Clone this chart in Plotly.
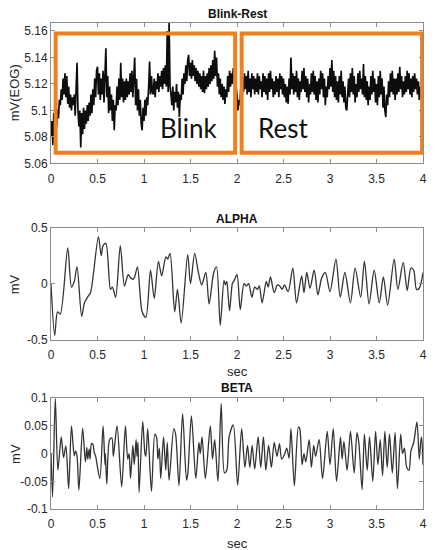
import plotly.graph_objects as go
from plotly.subplots import make_subplots

# ---- EOG (Blink-Rest), one sample every 10 ms ----
eog_mv = [
    5.080, 5.092, 5.074, 5.098, 5.083, 5.104, 5.088, 5.101, 5.094, 5.108,
    5.104, 5.116, 5.108, 5.124, 5.112, 5.128, 5.110, 5.126, 5.105, 5.118,
    5.102, 5.112, 5.100, 5.110, 5.104, 5.112, 5.096, 5.122, 5.136, 5.100,
    5.088, 5.100, 5.072, 5.098, 5.082, 5.102, 5.086, 5.100, 5.090, 5.104,
    5.092, 5.106, 5.096, 5.112, 5.098, 5.116, 5.104, 5.124, 5.110, 5.130,
    5.133, 5.112, 5.128, 5.108, 5.124, 5.112, 5.130, 5.106, 5.122, 5.147,
    5.110, 5.126, 5.098, 5.118, 5.100, 5.112, 5.092, 5.108, 5.085, 5.104,
    5.100, 5.118, 5.104, 5.124, 5.108, 5.136, 5.110, 5.124, 5.106, 5.122,
    5.108, 5.124, 5.110, 5.122, 5.112, 5.128, 5.114, 5.130, 5.110, 5.126,
    5.140, 5.104, 5.124, 5.100, 5.116, 5.096, 5.108, 5.090, 5.085, 5.102,
    5.092, 5.108, 5.096, 5.110, 5.104, 5.118, 5.137, 5.112, 5.126, 5.114,
    5.112, 5.124, 5.110, 5.122, 5.116, 5.128, 5.114, 5.126, 5.118, 5.130,
    5.116, 5.132, 5.120, 5.134, 5.118, 5.160, 5.114, 5.166, 5.118, 5.112,
    5.104, 5.118, 5.100, 5.114, 5.106, 5.120, 5.102, 5.114, 5.095, 5.112,
    5.108, 5.124, 5.112, 5.128, 5.120, 5.134, 5.122, 5.138, 5.142, 5.126,
    5.136, 5.124, 5.138, 5.126, 5.134, 5.122, 5.132, 5.120, 5.130, 5.118,
    5.128, 5.116, 5.126, 5.114, 5.130, 5.113, 5.126, 5.116, 5.128, 5.118,
    5.132, 5.120, 5.134, 5.122, 5.138, 5.124, 5.145, 5.126, 5.140, 5.118,
    5.128, 5.112, 5.124, 5.110, 5.120, 5.108, 5.118, 5.105, 5.116, 5.110,
    5.126, 5.114, 5.130, 5.118, 5.128, 5.120, 5.132, 5.122, 5.130, 5.118,
    5.112, 5.100, 5.108, 5.104, 5.116, 5.110, 5.124, 5.114, 5.128, 5.116,
    5.126, 5.112, 5.130, 5.114, 5.124, 5.110, 5.128, 5.116, 5.126, 5.112,
    5.124, 5.114, 5.128, 5.112, 5.126, 5.116, 5.122, 5.110, 5.128, 5.114,
    5.126, 5.112, 5.124, 5.108, 5.128, 5.114, 5.130, 5.116, 5.124, 5.110,
    5.122, 5.112, 5.126, 5.114, 5.124, 5.110, 5.128, 5.116, 5.126, 5.112,
    5.124, 5.110, 5.120, 5.106, 5.118, 5.105, 5.124, 5.112, 5.140, 5.116,
    5.128, 5.112, 5.126, 5.114, 5.130, 5.110, 5.124, 5.108, 5.122, 5.114,
    5.130, 5.116, 5.132, 5.114, 5.126, 5.110, 5.124, 5.106, 5.120, 5.112,
    5.128, 5.114, 5.130, 5.112, 5.126, 5.108, 5.122, 5.106, 5.124, 5.112,
    5.130, 5.116, 5.128, 5.110, 5.124, 5.104, 5.118, 5.110, 5.126, 5.116,
    5.132, 5.118, 5.138, 5.114, 5.130, 5.110, 5.126, 5.108, 5.122, 5.106,
    5.126, 5.112, 5.130, 5.110, 5.122, 5.106, 5.118, 5.102, 5.100, 5.112,
    5.124, 5.110, 5.128, 5.114, 5.132, 5.112, 5.126, 5.106, 5.120, 5.110,
    5.128, 5.114, 5.130, 5.116, 5.124, 5.112, 5.135, 5.110, 5.126, 5.108,
    5.122, 5.104, 5.118, 5.108, 5.126, 5.112, 5.130, 5.114, 5.124, 5.106,
    5.120, 5.104, 5.126, 5.110, 5.130, 5.112, 5.124, 5.102, 5.118, 5.100,
    5.095, 5.112, 5.104, 5.122, 5.110, 5.128, 5.114, 5.130, 5.112, 5.124,
    5.108, 5.124, 5.112, 5.128, 5.114, 5.133, 5.116, 5.126, 5.110, 5.122,
    5.112, 5.126, 5.114, 5.130, 5.116, 5.128, 5.112, 5.124, 5.110, 5.126,
    5.114, 5.128, 5.116, 5.124, 5.112, 5.122, 5.108, 5.118, 5.110, 5.120,
]
eog_t = [i * 0.01 for i in range(len(eog_mv))]

# ---- ALPHA band: turning points (sec, mV) ----
alpha_t = [0.00, 0.04, 0.07, 0.10, 0.18, 0.22, 0.25, 0.28, 0.33, 0.36, 0.40, 0.425,
           0.51, 0.54, 0.56, 0.59, 0.64, 0.66, 0.695, 0.745, 0.79, 0.83, 0.86, 0.885,
           0.90, 0.93, 0.98, 1.02, 1.07, 1.11, 1.155, 1.19, 1.235, 1.255, 1.28, 1.33,
           1.36, 1.40, 1.47, 1.50, 1.545, 1.585, 1.62, 1.665, 1.70, 1.75, 1.78, 1.82,
           1.86, 1.875, 1.89, 1.92, 1.95, 1.97, 2.00, 2.035, 2.075, 2.10, 2.125, 2.16,
           2.19, 2.22, 2.24, 2.27, 2.315, 2.335, 2.36, 2.40, 2.435, 2.46, 2.485, 2.51,
           2.55, 2.60, 2.64, 2.695, 2.72, 2.75, 2.785, 2.83, 2.87, 2.91, 2.95, 3.00,
           3.064, 3.11, 3.16, 3.22, 3.27, 3.33, 3.37, 3.42, 3.475, 3.53, 3.574, 3.62,
           3.69, 3.73, 3.787, 3.83, 3.87, 3.90, 3.93, 3.96, 4.00]
alpha_mv = [0.00, -0.46, -0.25, -0.27, 0.32, -0.03, 0.02, 0.15, -0.29, -0.17, -0.11, -0.08,
            0.42, 0.25, 0.34, 0.36, -0.05, -0.03, -0.12, 0.34, -0.02, 0.08, 0.05, 0.04,
            0.06, 0.15, -0.25, -0.30, 0.12, -0.13, 0.20, 0.07, 0.24, 0.22, 0.27, -0.25,
            -0.05, -0.35, 0.26, 0.00, 0.27, 0.10, -0.01, 0.10, -0.18, 0.10, 0.15, -0.37,
            0.03, -0.01, 0.02, -0.24, 0.00, 0.03, 0.08, -0.23, 0.00, -0.02, 0.00, -0.12,
            -0.03, -0.05, -0.02, -0.17, 0.02, -0.03, 0.06, -0.08, -0.01, -0.02, -0.05, -0.01,
            -0.07, 0.14, -0.17, 0.07, -0.08, 0.10, -0.04, 0.12, -0.10, 0.05, 0.10, -0.07,
            0.22, -0.12, 0.10, -0.17, 0.14, -0.12, 0.20, -0.18, 0.12, -0.17, 0.06, -0.19,
            0.22, -0.05, 0.19, -0.06, 0.14, 0.12, -0.05, -0.04, 0.10]

# ---- BETA band: turning points (sec, mV) ----
beta_t = [0.000, 0.017, 0.046, 0.074, 0.11, 0.135, 0.16, 0.19, 0.22, 0.25, 0.265, 0.28,
          0.30, 0.34, 0.37, 0.385, 0.395, 0.41, 0.42, 0.435, 0.45, 0.465, 0.48, 0.525,
          0.56, 0.58, 0.585, 0.60, 0.63, 0.655, 0.67, 0.71, 0.76, 0.80, 0.825, 0.84,
          0.855, 0.88, 0.895, 0.915, 0.925, 0.935, 0.947, 0.986, 1.01, 1.02, 1.04, 1.08,
          1.117, 1.135, 1.15, 1.165, 1.18, 1.21, 1.234, 1.25, 1.27, 1.32, 1.34, 1.376,
          1.415, 1.457, 1.47, 1.51, 1.557, 1.59, 1.605, 1.624, 1.66, 1.713, 1.737, 1.76,
          1.795, 1.83, 1.865, 1.89, 1.915, 1.96, 2.007, 2.05, 2.085, 2.113, 2.138, 2.163,
          2.19, 2.227, 2.255, 2.284, 2.31, 2.34, 2.37, 2.40, 2.43, 2.457, 2.48, 2.51,
          2.535, 2.56, 2.58, 2.617, 2.66, 2.675, 2.70, 2.72, 2.74, 2.776, 2.80, 2.825,
          2.845, 2.883, 2.92, 2.97, 3.00, 3.035, 3.07, 3.113, 3.13, 3.15, 3.184, 3.22,
          3.26, 3.29, 3.31, 3.345, 3.37, 3.40, 3.425, 3.46, 3.49, 3.515, 3.54, 3.565,
          3.59, 3.615, 3.64, 3.67, 3.70, 3.725, 3.76, 3.78, 3.80, 3.825, 3.85, 3.87,
          3.90, 3.935, 3.96, 3.975, 3.985, 4.00]
beta_mv = [0.000, -0.078, 0.100, -0.030, 0.030, -0.007, 0.014, -0.063, 0.050, -0.004, 0.005, -0.005,
           -0.066, 0.046, -0.015, 0.011, -0.010, 0.008, -0.010, 0.018, 0.017, 0.002, -0.005, -0.045,
           0.050, -0.020, 0.000, -0.055, 0.025, 0.028, -0.005, 0.050, -0.060, 0.050, -0.010, 0.000,
           -0.045, 0.015, -0.020, 0.025, -0.005, 0.020, -0.070, 0.058, 0.000, -0.005, 0.045, -0.068,
           0.035, 0.030, -0.010, 0.010, -0.045, 0.030, -0.030, 0.020, -0.048, 0.045, 0.035, -0.058,
           0.072, -0.048, -0.038, 0.068, -0.045, 0.020, 0.000, 0.030, -0.045, 0.050, -0.010, 0.025,
           -0.050, 0.090, -0.035, -0.030, 0.030, 0.052, -0.057, 0.045, -0.025, 0.015, -0.025, 0.015,
           -0.028, 0.030, -0.025, 0.030, -0.030, 0.015, -0.025, 0.020, -0.005, 0.018, -0.010, -0.002,
           0.010, -0.008, 0.045, -0.058, 0.048, 0.045, -0.020, 0.000, -0.015, 0.025, -0.025, 0.015,
           -0.005, 0.025, -0.045, 0.040, -0.020, 0.045, -0.050, 0.030, -0.010, 0.022, -0.030, 0.040,
           -0.035, 0.038, 0.020, -0.065, 0.035, -0.030, 0.030, -0.050, 0.040, -0.020, 0.025, -0.040,
           0.040, -0.025, 0.035, -0.035, 0.038, -0.063, 0.035, 0.000, 0.010, -0.025, -0.030, 0.005,
           0.020, 0.057, -0.010, 0.020, 0.030, -0.020]

x_ticks = [0, 0.5, 1, 1.5, 2, 2.5, 3, 3.5, 4]
x_labels = ["0", "0.5", "1", "1.5", "2", "2.5", "3", "3.5", "4"]
eog_ticks = [5.06, 5.08, 5.10, 5.12, 5.14, 5.16]
eog_labels = ["5.06", "5.08", "5.1", "5.12", "5.14", "5.16"]
alpha_ticks = [-0.5, 0, 0.5]
alpha_labels = ["-0.5", "0", "0.5"]
beta_ticks = [-0.1, -0.05, 0, 0.05, 0.1]
beta_labels = ["-0.1", "-0.05", "0", "0.05", "0.1"]

# orange boxes: (x0, x1) in sec, shared y span in mV
blink_box = (0.05, 1.98)
rest_box = (2.05, 3.99)
box_y = (5.068, 5.158)

ORANGE = "#f07f1e"
TXT = "#262626"
AX = "#8c8c8c"

fig = make_subplots(rows=3, cols=1)

fig.add_trace(go.Scatter(x=eog_t, y=eog_mv, mode="lines",
                         line=dict(color="#0d0d0d", width=1.7)), row=1, col=1)
fig.add_trace(go.Scatter(x=alpha_t, y=alpha_mv, mode="lines",
                         line=dict(color="#333333", width=1.3, shape="spline", smoothing=0.8)),
              row=2, col=1)
fig.add_trace(go.Scatter(x=beta_t, y=beta_mv, mode="lines",
                         line=dict(color="#333333", width=1.3, shape="spline", smoothing=0.8)),
              row=3, col=1)

axis_style = dict(showline=True, mirror="ticks", linecolor=AX, linewidth=1,
                  ticks="inside", ticklen=4, tickcolor=AX, showgrid=False,
                  zeroline=False, tickfont=dict(family="Liberation Sans, Arial", size=12, color=TXT))

for i in (1, 2, 3):
    fig.update_xaxes(range=[0, 4], tickvals=x_ticks, ticktext=x_labels, ticklabelstandoff=4,
                     **axis_style, row=i, col=1)

fig.update_yaxes(range=[5.06, 5.166], tickvals=eog_ticks, ticktext=eog_labels,
                 domain=[0.711, 1.0], **axis_style, row=1, col=1)
fig.update_yaxes(range=[-0.5, 0.5], tickvals=alpha_ticks, ticktext=alpha_labels,
                 domain=[0.348, 0.579], **axis_style, row=2, col=1)
fig.update_yaxes(range=[-0.1, 0.1], tickvals=beta_ticks, ticktext=beta_labels,
                 domain=[0.0, 0.228], **axis_style, row=3, col=1)

for x0, x1 in (blink_box, rest_box):
    fig.add_shape(type="rect", xref="x", yref="y", x0=x0, x1=x1, y0=box_y[0], y1=box_y[1],
                  line=dict(color=ORANGE, width=4))

big = dict(family="Lato, Open Sans, sans-serif", size=26, color="#111111")
fig.add_annotation(x=1.48, y=5.087, xref="x", yref="y", text="Blink", showarrow=False, font=big)
fig.add_annotation(x=2.49, y=5.087, xref="x", yref="y", text="Rest", showarrow=False, font=big)

bold = dict(family="Liberation Sans, Arial", size=12, color="#111111")
lab = dict(family="Liberation Sans, Arial", size=13, color=TXT)
for txt, yy in (("<b>Blink-Rest</b>", 1.018), ("<b>ALPHA</b>", 0.5976), ("<b>BETA</b>", 0.248)):
    fig.add_annotation(x=0.5, y=yy, xref="paper", yref="paper", text=txt, showarrow=False,
                       font=bold, xanchor="center", yanchor="middle")
for yy in (0.2825, -0.071):
    fig.add_annotation(x=0.5, y=yy, xref="paper", yref="paper", text="sec", showarrow=False,
                       font=lab, xanchor="center", yanchor="middle")
for txt, yy in (("mV(EOG)", 0.856), ("mV", 0.463), ("mV", 0.114)):
    fig.add_annotation(x=-0.096, y=yy, xref="paper", yref="paper", text=txt, showarrow=False,
                       textangle=-90, font=lab, xanchor="center", yanchor="middle")

# the page body adds an 8 px margin, so the figure is 8 px smaller and shifted margins
fig.update_layout(width=427, height=542, showlegend=False,
                  margin=dict(l=43, r=8, t=9, b=41),
                  paper_bgcolor="white", plot_bgcolor="white")

fig.write_html("out.html")
